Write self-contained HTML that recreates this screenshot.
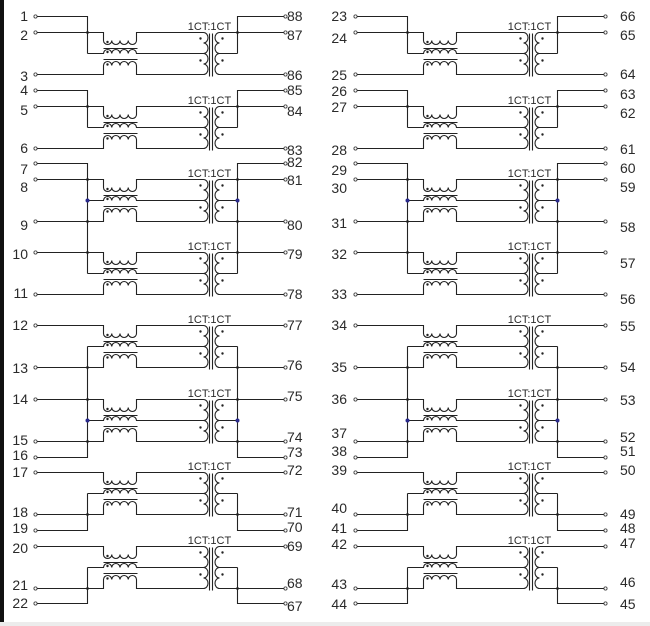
<!DOCTYPE html>
<html><head><meta charset="utf-8"><style>
html,body{margin:0;padding:0;background:#fff;}
svg{display:block;}
text{font-family:"Liberation Sans",sans-serif;fill:#2a2a2a;}
.n{font-size:14px;}
.ct{font-size:11px;}
</style></head><body>
<svg width="650" height="626" viewBox="0 0 650 626" xmlns="http://www.w3.org/2000/svg">
<rect x="0" y="0" width="650" height="626" fill="#fff"/>
<rect x="0" y="0" width="4" height="622" fill="#111"/>
<rect x="0" y="622" width="650" height="4" fill="#ececec"/>
<defs>
<g id="ch">
<g fill="none" stroke="#222" stroke-width="1.1">
<path d="M35,0H103V8a4.125,4 0 0 0 8.25,0a4.125,4 0 0 0 8.25,0a4.125,4 0 0 0 8.25,0a4.125,4 0 0 0 8.25,0V0H203"/>
<path d="M87,21H103a4.125,4 0 0 1 8.25,0a4.125,4 0 0 1 8.25,0a4.125,4 0 0 1 8.25,0a4.125,4 0 0 1 8.25,0H203"/>
<path d="M35,42H103V33a4.125,4 0 0 1 8.25,0a4.125,4 0 0 1 8.25,0a4.125,4 0 0 1 8.25,0a4.125,4 0 0 1 8.25,0V42H203"/>
<path d="M103,16H137M103,27H137"/>
<path d="M203,0a4.5,5.25 0 0 1 0,10.5a4.5,5.25 0 0 1 0,10.5a4.5,5.25 0 0 1 0,10.5a4.5,5.25 0 0 1 0,10.5"/>
<path d="M209,1V44M212,1V44"/>
<path d="M219,0a4.5,5.25 0 0 0 0,10.5a4.5,5.25 0 0 0 0,10.5a4.5,5.25 0 0 0 0,10.5a4.5,5.25 0 0 0 0,10.5"/>
<path d="M219,0H285M219,21H237M219,42H285"/>
</g>
<g fill="#222">
<circle cx="107" cy="9.5" r="1.2"/><circle cx="107" cy="19.5" r="1.2"/><circle cx="107" cy="32" r="1.2"/>
<circle cx="200" cy="6" r="1.2"/><circle cx="200" cy="28" r="1.2"/>
<circle cx="222" cy="6" r="1.2"/><circle cx="222" cy="28" r="1.2"/>
</g>
<g fill="#fff" stroke="#333" stroke-width="0.8">
<circle cx="35" cy="0" r="1.6"/><circle cx="35" cy="42" r="1.6"/>
<circle cx="285" cy="0" r="1.6"/><circle cx="285" cy="42" r="1.6"/>
</g>
</g>
<g id="col">
<use href="#ch" transform="translate(0,32)"/>
<use href="#ch" transform="translate(0,106)"/>
<use href="#ch" transform="translate(0,179)"/>
<use href="#ch" transform="translate(0,252)"/>
<use href="#ch" transform="translate(0,325)"/>
<use href="#ch" transform="translate(0,399)"/>
<use href="#ch" transform="translate(0,472)"/>
<use href="#ch" transform="translate(0,546)"/>
<g fill="none" stroke="#222" stroke-width="1.1">
<path d="M35,16H87V53M285,16H237V53"/>
<path d="M35,90H87V127M285,90H237V127"/>
<path d="M35,163H87V273M285,163H237V273"/>
<path d="M87,346V457H35M237,346V457H285"/>
<path d="M87,493V530H35M237,493V530H285"/>
<path d="M87,567V603H35M237,567V603H285"/>
</g>
<g fill="#222">
<circle cx="87" cy="32" r="1.4"/><circle cx="237" cy="32" r="1.4"/>
<circle cx="87" cy="106" r="1.4"/><circle cx="237" cy="106" r="1.4"/>
<circle cx="87" cy="179" r="1.4"/><circle cx="237" cy="179" r="1.4"/>
<circle cx="87" cy="221" r="1.4"/><circle cx="237" cy="221" r="1.4"/>
<circle cx="87" cy="252" r="1.4"/><circle cx="237" cy="252" r="1.4"/>
<circle cx="87" cy="367" r="1.4"/><circle cx="237" cy="367" r="1.4"/>
<circle cx="87" cy="399" r="1.4"/><circle cx="237" cy="399" r="1.4"/>
<circle cx="87" cy="441" r="1.4"/><circle cx="237" cy="441" r="1.4"/>
<circle cx="87" cy="514" r="1.4"/><circle cx="237" cy="514" r="1.4"/>
<circle cx="87" cy="588" r="1.4"/><circle cx="237" cy="588" r="1.4"/>
</g>
<g fill="#2a2a8c">
<circle cx="87" cy="200" r="2"/><circle cx="237" cy="200" r="2"/>
<circle cx="87" cy="420" r="2"/><circle cx="237" cy="420" r="2"/>
</g>
<g fill="#fff" stroke="#333" stroke-width="0.8">
<circle cx="35" cy="16" r="1.6"/><circle cx="285" cy="16" r="1.6"/>
<circle cx="35" cy="90" r="1.6"/><circle cx="285" cy="90" r="1.6"/>
<circle cx="35" cy="163" r="1.6"/><circle cx="285" cy="163" r="1.6"/>
<circle cx="35" cy="457" r="1.6"/><circle cx="285" cy="457" r="1.6"/>
<circle cx="35" cy="530" r="1.6"/><circle cx="285" cy="530" r="1.6"/>
<circle cx="35" cy="603" r="1.6"/><circle cx="285" cy="603" r="1.6"/>
</g>
</g>
</defs>
<g transform="translate(0.5,0.5)">
<use href="#col"/>
<use href="#col" x="320"/>
</g>

<g text-anchor="middle">
<text class="ct" x="209.5" y="30">1CT:1CT</text>
<text class="ct" x="209.5" y="104">1CT:1CT</text>
<text class="ct" x="209.5" y="177">1CT:1CT</text>
<text class="ct" x="209.5" y="250">1CT:1CT</text>
<text class="ct" x="209.5" y="323">1CT:1CT</text>
<text class="ct" x="209.5" y="397">1CT:1CT</text>
<text class="ct" x="209.5" y="470">1CT:1CT</text>
<text class="ct" x="209.5" y="544">1CT:1CT</text>
<text class="ct" x="529.5" y="30">1CT:1CT</text>
<text class="ct" x="529.5" y="104">1CT:1CT</text>
<text class="ct" x="529.5" y="177">1CT:1CT</text>
<text class="ct" x="529.5" y="250">1CT:1CT</text>
<text class="ct" x="529.5" y="323">1CT:1CT</text>
<text class="ct" x="529.5" y="397">1CT:1CT</text>
<text class="ct" x="529.5" y="470">1CT:1CT</text>
<text class="ct" x="529.5" y="544">1CT:1CT</text>
</g>

<g text-anchor="end">
<text class="n" x="28" y="21">1</text>
<text class="n" x="28" y="40">2</text>
<text class="n" x="28" y="81">3</text>
<text class="n" x="28" y="95">4</text>
<text class="n" x="28" y="115">5</text>
<text class="n" x="28" y="153">6</text>
<text class="n" x="28" y="174">7</text>
<text class="n" x="28" y="192">8</text>
<text class="n" x="28" y="230">9</text>
<text class="n" x="28" y="259">10</text>
<text class="n" x="28" y="298">11</text>
<text class="n" x="28" y="330">12</text>
<text class="n" x="28" y="373">13</text>
<text class="n" x="28" y="404">14</text>
<text class="n" x="28" y="445">15</text>
<text class="n" x="28" y="460">16</text>
<text class="n" x="28" y="477">17</text>
<text class="n" x="28" y="517">18</text>
<text class="n" x="28" y="533">19</text>
<text class="n" x="28" y="553">20</text>
<text class="n" x="28" y="590">21</text>
<text class="n" x="28" y="608">22</text>
</g>

<g text-anchor="start">
<text class="n" x="287" y="21">88</text>
<text class="n" x="287" y="40">87</text>
<text class="n" x="287" y="80">86</text>
<text class="n" x="287" y="95">85</text>
<text class="n" x="287" y="116">84</text>
<text class="n" x="287" y="155">83</text>
<text class="n" x="287" y="167">82</text>
<text class="n" x="287" y="185">81</text>
<text class="n" x="287" y="230">80</text>
<text class="n" x="287" y="259">79</text>
<text class="n" x="287" y="299">78</text>
<text class="n" x="287" y="330">77</text>
<text class="n" x="287" y="370">76</text>
<text class="n" x="287" y="401">75</text>
<text class="n" x="287" y="442">74</text>
<text class="n" x="287" y="457">73</text>
<text class="n" x="287" y="475">72</text>
<text class="n" x="287" y="517">71</text>
<text class="n" x="287" y="532">70</text>
<text class="n" x="287" y="551">69</text>
<text class="n" x="287" y="588">68</text>
<text class="n" x="287" y="611">67</text>
</g>

<g text-anchor="end">
<text class="n" x="347" y="21">23</text>
<text class="n" x="347" y="43">24</text>
<text class="n" x="347" y="80">25</text>
<text class="n" x="347" y="96">26</text>
<text class="n" x="347" y="112">27</text>
<text class="n" x="347" y="155">28</text>
<text class="n" x="347" y="175">29</text>
<text class="n" x="347" y="193">30</text>
<text class="n" x="347" y="228">31</text>
<text class="n" x="347" y="259">32</text>
<text class="n" x="347" y="299">33</text>
<text class="n" x="347" y="330">34</text>
<text class="n" x="347" y="372">35</text>
<text class="n" x="347" y="404">36</text>
<text class="n" x="347" y="438">37</text>
<text class="n" x="347" y="456">38</text>
<text class="n" x="347" y="475">39</text>
<text class="n" x="347" y="513">40</text>
<text class="n" x="347" y="533">41</text>
<text class="n" x="347" y="549">42</text>
<text class="n" x="347" y="589">43</text>
<text class="n" x="347" y="609">44</text>
</g>

<g text-anchor="start">
<text class="n" x="620" y="21">66</text>
<text class="n" x="620" y="40">65</text>
<text class="n" x="620" y="79">64</text>
<text class="n" x="620" y="99">63</text>
<text class="n" x="620" y="118">62</text>
<text class="n" x="620" y="154">61</text>
<text class="n" x="620" y="173">60</text>
<text class="n" x="620" y="192">59</text>
<text class="n" x="620" y="232">58</text>
<text class="n" x="620" y="268">57</text>
<text class="n" x="620" y="304">56</text>
<text class="n" x="620" y="331">55</text>
<text class="n" x="620" y="372">54</text>
<text class="n" x="620" y="405">53</text>
<text class="n" x="620" y="442">52</text>
<text class="n" x="620" y="456">51</text>
<text class="n" x="620" y="475">50</text>
<text class="n" x="620" y="519">49</text>
<text class="n" x="620" y="533">48</text>
<text class="n" x="620" y="548">47</text>
<text class="n" x="620" y="587">46</text>
<text class="n" x="620" y="609">45</text>
</g>
</svg>
</body></html>
